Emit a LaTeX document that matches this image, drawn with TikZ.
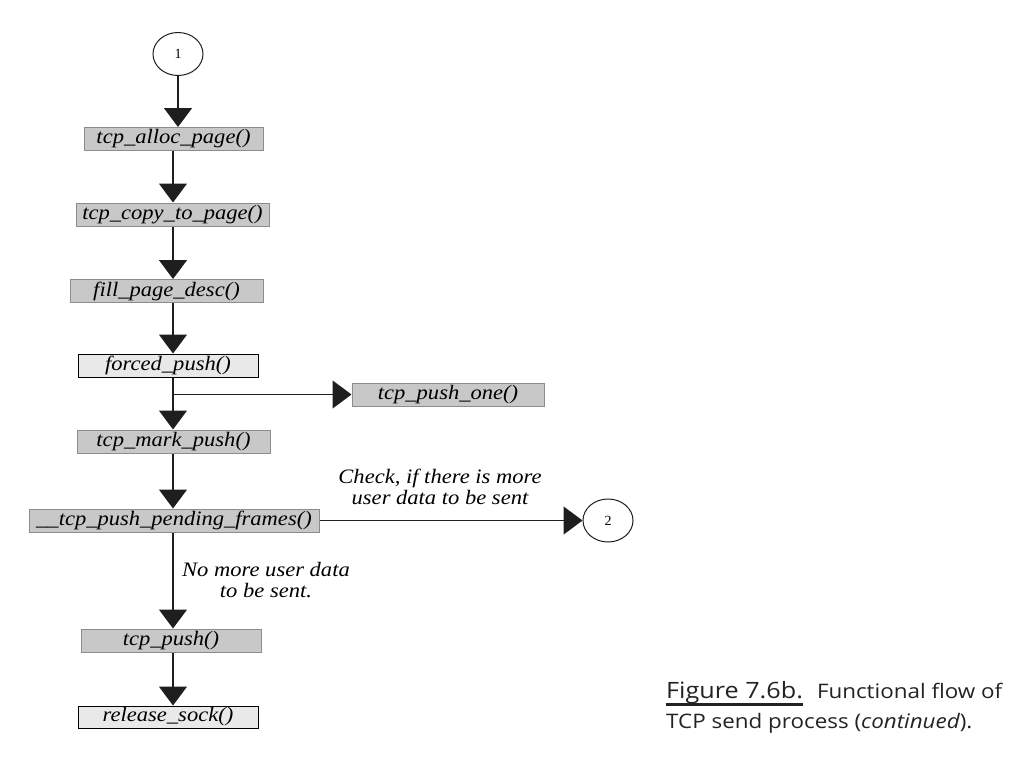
\documentclass[tikz,border=0pt]{standalone}
\usepackage{fontspec}
\setmainfont{Liberation Serif}
\newfontfamily\boxfont[FakeStretch=1.1]{Liberation Serif}
\newfontfamily\capfont[FakeStretch=1.12]{Open Sans}
\newcommand\figul[1]{\setbox0\hbox{#1}\rlap{\rule[-8pt]{\wd0}{2.6pt}}\box0\relax}
\usetikzlibrary{arrows.meta,shapes.geometric}
\definecolor{boxgray}{RGB}{200,200,200}
\definecolor{boxborder}{RGB}{140,140,140}
\definecolor{lightfill}{RGB}{233,233,233}
\definecolor{captext}{RGB}{35,35,35}
\definecolor{linecol}{RGB}{30,30,30}
\begin{document}
\begin{tikzpicture}[x=1pt,y=-1pt,
  fnbox/.style={draw=boxborder, fill=boxgray, line width=1pt, inner sep=0pt, minimum height=23pt,
    font=\boxfont\itshape\fontsize{20.5}{21}\selectfont},
  fnlight/.style={fnbox, draw=black, fill=lightfill},
  conn/.style={ellipse, draw=linecol, line width=1pt, minimum width=50pt, minimum height=43pt, inner sep=0pt,
    font=\fontsize{14}{14}\selectfont},
  arr/.style={draw=linecol, line width=1.3pt, -{Triangle[length=19pt,width=28pt]}},
  lbl/.style={align=center, inner sep=0pt, font=\boxfont\itshape\fontsize{20.5}{21.5}\selectfont},
  captxt/.style={anchor=base west, inner sep=0pt, text=captext, font=\capfont\fontsize{20}{30}\selectfont}]
\useasboundingbox (0,0) rectangle (1024,768);
\coordinate (spine) at (173,0);

\node[conn] (c1) at (178,54) {1};
\node[fnbox, minimum width=179pt] (alloc) at (173.5,139) {tcp\_alloc\_page()};
\node[fnbox, minimum width=193pt] (copy) at (172.5,214.5) {tcp\_copy\_to\_page()};
\node[fnbox, minimum width=193pt] (fill) at (166.5,291) {fill\_page\_desc()};
\node[fnlight, minimum width=180pt] (forced) at (168,365.5) {forced\_push()};
\node[fnbox, minimum width=192pt] (one) at (448,394.5) {tcp\_push\_one()};
\node[fnbox, minimum width=193pt] (mark) at (173.5,441.5) {tcp\_mark\_push()};
\node[fnbox, minimum width=290pt] (pending) at (174,520.5) {\_\_tcp\_push\_pending\_frames()};
\node[conn] (c2) at (608,520.5) {2};
\node[fnbox, minimum width=180pt] (push) at (171,640.5) {tcp\_push()};
\node[fnlight, minimum width=180pt, minimum height=22pt] (release) at (168,717) {release\_sock()};

\node[lbl] (check) at (440,487) {Check, if there is more\\user data to be sent};
\node[lbl] (nomore) at (266,580) {No more user data\\to be sent.};

\node[captxt] (cap1) at (666,698)
  {\figul{\fontsize{22.5}{30}\selectfont Figure 7.6b.}\hspace{14pt}Functional flow of};
\node[captxt] (cap2) at (666,728) {TCP send process ({\itshape continued}).};

\draw[arr] (c1.south) -- (c1.south |- alloc.north);
\draw[arr] (alloc.south -| spine) -- (copy.north -| spine);
\draw[arr] (copy.south -| spine) -- (fill.north -| spine);
\draw[arr] (fill.south -| spine) -- (forced.north -| spine);
\draw[arr] (forced.south -| spine) -- (mark.north -| spine);
\draw[arr] (spine |- one.west) -- (one.west);
\draw[arr] (mark.south -| spine) -- (pending.north -| spine);
\draw[arr] (pending.east) -- (c2.west);
\draw[arr] (pending.south -| spine) -- (push.north -| spine);
\draw[arr] (push.south -| spine) -- (release.north -| spine);
\end{tikzpicture}
\end{document}
